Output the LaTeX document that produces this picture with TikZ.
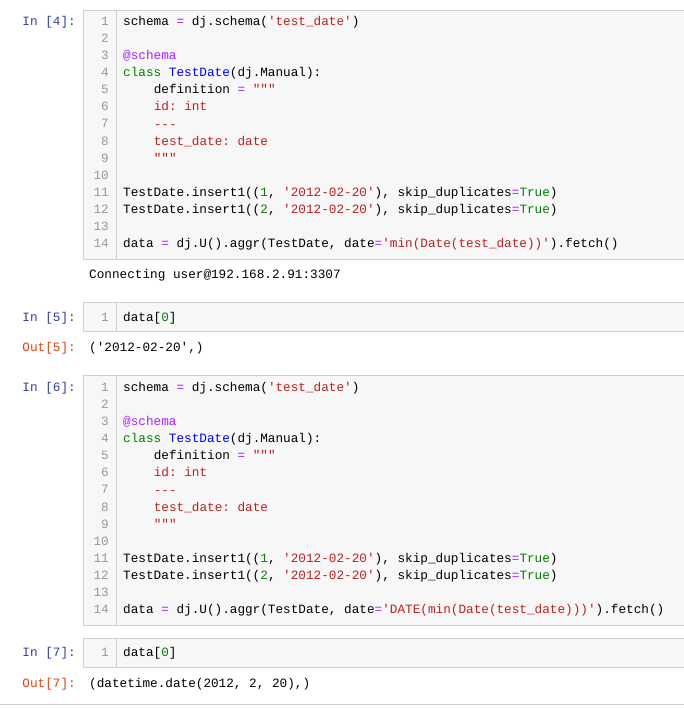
\documentclass[tikz,border=0pt]{standalone}
\usepackage{fontspec}
\setmonofont{Liberation Mono}
\definecolor{kw}{HTML}{008000}
\definecolor{st}{HTML}{BA2121}
\definecolor{op}{HTML}{AA22FF}
\definecolor{cn}{HTML}{0000FF}
\definecolor{inl}{HTML}{303F9F}
\definecolor{outl}{HTML}{D84315}
\definecolor{boxf}{HTML}{F7F7F7}
\definecolor{boxd}{HTML}{CFCFCF}
\definecolor{lnc}{HTML}{999999}
\newcommand\K[1]{\textcolor{kw}{#1}}
\newcommand\Sx[1]{\textcolor{st}{#1}}
\newcommand\Ox[1]{\textcolor{op}{#1}}
\newcommand\Cx[1]{\textcolor{cn}{#1}}
\begin{document}
\begin{tikzpicture}[x=1pt,y=-1pt,
  every node/.style={inner sep=0pt,font=\ttfamily\fontsize{12.7}{14}\selectfont},
  code/.style={anchor=base west},
  lnum/.style={anchor=base east,text=lnc},
  inlab/.style={anchor=base east,text=inl},
  outlab/.style={anchor=base east,text=outl},
  cellbox/.style={draw=boxd,fill=boxf,line width=0.8pt}]
\useasboundingbox (0,0) rectangle (684,709);
\def\cx{123}\def\ix{153.6}
% ---------- cell 4 ----------
\filldraw[cellbox] (83.5,10.5) rectangle (690,259.5);
\draw[boxd,line width=0.8pt] (116.5,10.5) -- (116.5,259.5);
\node[inlab] (in4) at (76,25.5) {In [4]:};
\foreach \n in {1,...,14}{\node[lnum] (a\n) at (109,25.5+17.08*\n-17.08) {\n};}
\node[code] (c1) at (\cx,25.5) {schema \Ox{=} dj.schema(\Sx{'test\_date'})};
\node[code] (c3) at (\cx,59.7) {\Ox{@schema}};
\node[code] (c4) at (\cx,76.7) {\K{class} \Cx{TestDate}(dj.Manual):};
\node[code] (c5) at (\ix,93.8) {definition \Ox{=} \Sx{"""}};
\node[code] (c6) at (\ix,110.9) {\Sx{id: int}};
\node[code] (c7) at (\ix,128) {\Sx{---}};
\node[code] (c8) at (\ix,145.1) {\Sx{test\_date: date}};
\node[code] (c9) at (\ix,162.2) {\Sx{"""}};
\node[code] (c11) at (\cx,196.3) {TestDate.insert1((\K{1}, \Sx{'2012-02-20'}), skip\_duplicates\Ox{=}\K{True})};
\node[code] (c12) at (\cx,213.4) {TestDate.insert1((\K{2}, \Sx{'2012-02-20'}), skip\_duplicates\Ox{=}\K{True})};
\node[code] (c14) at (\cx,247.5) {data \Ox{=} dj.U().aggr(TestDate, date\Ox{=}\Sx{'min(Date(test\_date))'}).fetch()};
\node[code] (o4) at (89,278.5) {Connecting user@192.168.2.91:3307};
% ---------- cell 5 ----------
\filldraw[cellbox] (83.5,302.5) rectangle (690,331.5);
\draw[boxd,line width=0.8pt] (116.5,302.5) -- (116.5,331.5);
\node[inlab] (in5) at (76,321.5) {In [5]:};
\node[lnum] (b1) at (109,321.5) {1};
\node[code] (d1) at (\cx,321.5) {data[\K{0}]};
\node[outlab] (out5) at (76,351.5) {Out[5]:};
\node[code] (o5) at (89,351.5) {('2012-02-20',)};
% ---------- cell 6 ----------
\filldraw[cellbox] (83.5,375.5) rectangle (690,625.5);
\draw[boxd,line width=0.8pt] (116.5,375.5) -- (116.5,625.5);
\node[inlab] (in6) at (76,391.5) {In [6]:};
\foreach \n in {1,...,14}{\node[lnum] (e\n) at (109,391.5+17.08*\n-17.08) {\n};}
\node[code] (f1) at (\cx,391.5) {schema \Ox{=} dj.schema(\Sx{'test\_date'})};
\node[code] (f3) at (\cx,425.7) {\Ox{@schema}};
\node[code] (f4) at (\cx,442.7) {\K{class} \Cx{TestDate}(dj.Manual):};
\node[code] (f5) at (\ix,459.8) {definition \Ox{=} \Sx{"""}};
\node[code] (f6) at (\ix,476.9) {\Sx{id: int}};
\node[code] (f7) at (\ix,494) {\Sx{---}};
\node[code] (f8) at (\ix,511.1) {\Sx{test\_date: date}};
\node[code] (f9) at (\ix,528.2) {\Sx{"""}};
\node[code] (f11) at (\cx,562.3) {TestDate.insert1((\K{1}, \Sx{'2012-02-20'}), skip\_duplicates\Ox{=}\K{True})};
\node[code] (f12) at (\cx,579.4) {TestDate.insert1((\K{2}, \Sx{'2012-02-20'}), skip\_duplicates\Ox{=}\K{True})};
\node[code] (f14) at (\cx,613.5) {data \Ox{=} dj.U().aggr(TestDate, date\Ox{=}\Sx{'DATE(min(Date(test\_date)))'}).fetch()};
% ---------- cell 7 ----------
\filldraw[cellbox] (83.5,638.5) rectangle (690,667.5);
\draw[boxd,line width=0.8pt] (116.5,638.5) -- (116.5,667.5);
\node[inlab] (in7) at (76,656.5) {In [7]:};
\node[lnum] (g1) at (109,656.5) {1};
\node[code] (h1) at (\cx,656.5) {data[\K{0}]};
\node[outlab] (out7) at (76,687.5) {Out[7]:};
\node[code] (o7) at (89,687.5) {(datetime.date(2012, 2, 20),)};
\draw[boxd,line width=0.8pt] (0,704.5) -- (684,704.5);
\end{tikzpicture}
\end{document}
